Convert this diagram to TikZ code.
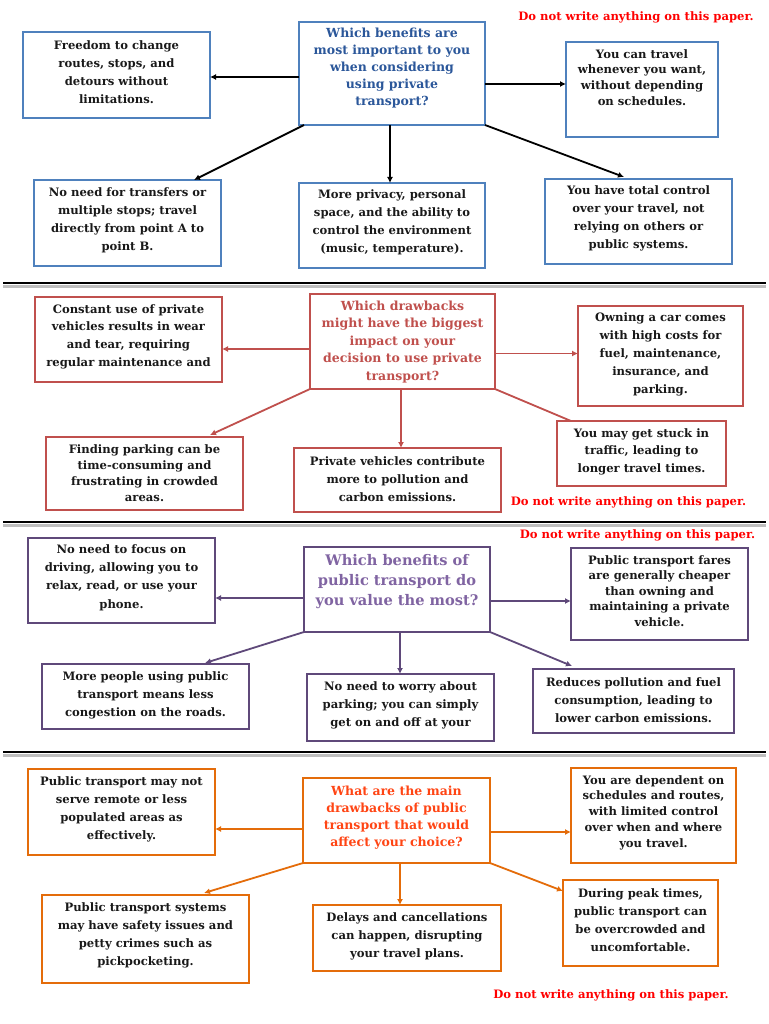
\documentclass[tikz,border=0pt]{standalone}
\usepackage{fontspec}
\setmainfont{DejaVu Serif}
\usetikzlibrary{arrows.meta,calc}
\definecolor{cblue}{HTML}{4F81BD}
\definecolor{tblue}{HTML}{2B579A}
\definecolor{cred}{HTML}{C0504D}
\definecolor{cpur}{HTML}{5F497A}
\definecolor{tpur}{HTML}{8064A2}
\definecolor{corg}{HTML}{E46C0A}
\definecolor{torg}{HTML}{FF4514}
\definecolor{cnote}{HTML}{FF0000}
\newcommand\mkbox[6]{%
  \node[draw=#6,line width=2.3pt,inner sep=0pt,outer sep=0pt,
    minimum width={#4-#2},minimum height={#5-#3}] (#1) at ({(#2+#4)/2},{(#3+#5)/2}) {};}
\tikzset{
  txt/.style={align=center,inner sep=0pt,text=black!90,font=\bfseries\fontsize{11.6}{#1}\selectfont},
  ttl/.style={align=center,inner sep=0pt,font=\bfseries\fontsize{12.5}{#1}\selectfont},
  note/.style={inner sep=0pt,text=cnote,font=\bfseries\fontsize{11.6}{13}\selectfont},
  arr/.style={line width=1.8pt,-{Latex[length=6pt,width=6pt]}},
  rule/.style={line width=2.6pt,black},
  ruleshadow/.style={line width=3pt,black!25}
}
\begin{document}
\begin{tikzpicture}[x=1pt,y=-1pt]
\useasboundingbox (0,0) rectangle (768,1024);
\fill[white] (0,0) rectangle (768,1024);

% ---------- Section 1 ----------
\mkbox{q1}{299}{22}{485}{125}{cblue}
\mkbox{l1}{23}{32}{210}{118}{cblue}
\mkbox{r1}{566}{42}{718}{137}{cblue}
\mkbox{bl1}{34}{180}{221}{266}{cblue}
\mkbox{bm1}{299}{183}{485}{268}{cblue}
\mkbox{br1}{545}{179}{732}{264}{cblue}
\node[ttl=17,text=tblue] (q1t) at (392,68) {Which benefits are\\most important to you\\when considering\\using private\\transport?};
\node[txt=18] (l1t) at (116.5,72) {Freedom to change\\routes, stops, and\\detours without\\limitations.};
\node[txt=15.7] (r1t) at (642,77.5) {You can travel\\whenever you want,\\without depending\\on schedules.};
\node[txt=18] (bl1t) at (127.5,220) {No need for transfers or\\multiple stops; travel\\directly from point A to\\point B.};
\node[txt=18] (bm1t) at (392,222) {More privacy, personal\\space, and the ability to\\control the environment\\(music, temperature).};
\node[txt=18] (br1t) at (638.5,218.5) {You have total control\\over your travel, not\\relying on others or\\public systems.};
\node[note] (n1) at (636,17) {Do not write anything on this paper.};
\coordinate (s1l) at ([yshift=-3.5pt]q1.west);
\coordinate (s1r) at ([yshift=-10.5pt]q1.east);
\coordinate (s1b) at ([xshift=-2pt]q1.south);
\draw[arr,black] (s1l) -- (s1l -| l1.east);
\draw[arr,black] (s1r) -- (s1r -| r1.west);
\draw[arr,black] ([xshift=5pt]q1.south west) -- ([xshift=66.5pt]bl1.north);
\draw[arr,black] (s1b) -- (s1b |- bm1.north);
\draw[arr,black] (q1.south east) -- ([xshift=-14.5pt,yshift=2pt]br1.north);

\draw[ruleshadow] (3,286) -- (766,286);
\draw[rule] (3,283) -- (766,283);

% ---------- Section 2 ----------
\mkbox{q2}{310}{294}{495}{389}{cred}
\mkbox{l2}{35}{297}{222}{382}{cred}
\mkbox{r2}{578}{306}{743}{406}{cred}
\mkbox{bl2}{46}{437}{243}{510}{cred}
\mkbox{bm2}{294}{448}{501}{512}{cred}
\mkbox{br2}{557}{421}{726}{486}{cred}
\node[ttl=17.5,text=cred] (q2t) at (402.5,342) {Which drawbacks\\might have the biggest\\impact on your\\decision to use private\\transport?};
\node[txt=17.7] (l2t) at (128.5,336.5) {Constant use of private\\vehicles results in wear\\and tear, requiring\\regular maintenance and};
\node[txt=18] (r2t) at (660.5,354) {Owning a car comes\\with high costs for\\fuel, maintenance,\\insurance, and\\parking.};
\node[txt=16] (bl2t) at (144.5,473) {Finding parking can be\\time-consuming and\\frustrating in crowded\\areas.};
\node[txt=18] (bm2t) at (397.5,479) {Private vehicles contribute\\more to pollution and\\carbon emissions.};
\node[txt=17.5] (br2t) at (641.5,451.5) {You may get stuck in\\traffic, leading to\\longer travel times.};
\node[note] (n2) at (628.5,502) {Do not write anything on this paper.};
\coordinate (s2l) at ([yshift=-7.5pt]q2.west);
\coordinate (s2r) at ([yshift=-12pt]q2.east);
\coordinate (s2b) at ([xshift=-1.5pt]q2.south);
\draw[arr,cred] (s2l) -- (s2l -| l2.east);
\draw[arr,cred] (s2r) -- (s2r -| r2.west);
\draw[arr,cred] (q2.south west) -- ([xshift=65.5pt,yshift=2pt]bl2.north);
\draw[arr,cred] (s2b) -- (s2b |- bm2.north);
\draw[line width=1.8pt,cred] (q2.south east) -- ([xshift=-70.5pt]br2.north);

\draw[ruleshadow] (3,525) -- (766,525);
\draw[rule] (3,522) -- (766,522);

% ---------- Section 3 ----------
\mkbox{q3}{304}{547}{490}{632}{cpur}
\mkbox{l3}{28}{538}{215}{623}{cpur}
\mkbox{r3}{571}{548}{748}{640}{cpur}
\mkbox{bl3}{42}{664}{249}{729}{cpur}
\mkbox{bm3}{307}{674}{494}{741}{cpur}
\mkbox{br3}{533}{669}{734}{733}{cpur}
\node[align=center,inner sep=0pt,text=tpur,font=\bfseries\fontsize{14.6}{20}\selectfont] (q3t) at (397,582) {Which benefits of\\public transport do\\you value the most?};
\node[txt=18.3] (l3t) at (121.5,577.5) {No need to focus on\\driving, allowing you to\\relax, read, or use your\\phone.};
\node[txt=15.5] (r3t) at (659.5,591) {Public transport fares\\are generally cheaper\\than owning and\\maintaining a private\\vehicle.};
\node[txt=18] (bl3t) at (145.5,695) {More people using public\\transport means less\\congestion on the roads.};
\node[txt=18] (bm3t) at (400.5,705) {No need to worry about\\parking; you can simply\\get on and off at your};
\node[txt=18] (br3t) at (633.5,700) {Reduces pollution and fuel\\consumption, leading to\\lower carbon emissions.};
\node[note] (n3) at (637.5,535) {Do not write anything on this paper.};
\coordinate (s3l) at ([yshift=-8.5pt]q3.west);
\coordinate (s3r) at ([yshift=-11.5pt]q3.east);
\coordinate (s3b) at ([xshift=3pt]q3.south);
\draw[arr,cpur] (s3l) -- (s3l -| l3.east);
\draw[arr,cpur] (s3r) -- (s3r -| r3.west);
\draw[arr,cpur] (q3.south west) -- ([xshift=59.5pt,yshift=1pt]bl3.north);
\draw[arr,cpur] (s3b) -- (s3b |- bm3.north);
\draw[arr,cpur] (q3.south east) -- ([xshift=-61.5pt,yshift=3pt]br3.north);

\draw[ruleshadow] (3,755) -- (766,755);
\draw[rule] (3,752) -- (766,752);

% ---------- Section 4 ----------
\mkbox{q4}{303}{778}{490}{863}{corg}
\mkbox{l4}{28}{769}{215}{855}{corg}
\mkbox{r4}{571}{768}{736}{863}{corg}
\mkbox{bl4}{42}{895}{249}{983}{corg}
\mkbox{bm4}{313}{905}{501}{971}{corg}
\mkbox{br4}{563}{880}{718}{966}{corg}
\node[ttl=17,text=torg] (q4t) at (396.5,817.5) {What are the main\\drawbacks of public\\transport that would\\affect your choice?};
\node[txt=18] (l4t) at (121.5,809) {Public transport may not\\serve remote or less\\populated areas as\\effectively.};
\node[txt=15.75] (r4t) at (653.5,812.5) {You are dependent on\\schedules and routes,\\with limited control\\over when and where\\you travel.};
\node[txt=18] (bl4t) at (145.5,935) {Public transport systems\\may have safety issues and\\petty crimes such as\\pickpocketing.};
\node[txt=18] (bm4t) at (407,936) {Delays and cancellations\\can happen, disrupting\\your travel plans.};
\node[txt=18] (br4t) at (640.5,920) {During peak times,\\public transport can\\be overcrowded and\\uncomfortable.};
\node[note] (n4) at (611,995) {Do not write anything on this paper.};
\coordinate (s4l) at ([yshift=-8.5pt]q4.west);
\coordinate (s4r) at ([yshift=-11.5pt]q4.east);
\coordinate (s4b) at ([xshift=3.5pt]q4.south);
\draw[arr,corg] (s4l) -- (s4l -| l4.east);
\draw[arr,corg] (s4r) -- (s4r -| r4.west);
\draw[arr,corg] (q4.south west) -- ([xshift=58.5pt,yshift=2pt]bl4.north);
\draw[arr,corg] (s4b) -- (s4b |- bm4.north);
\draw[arr,corg] (q4.south east) -- ([yshift=-11pt]br4.north west);
\end{tikzpicture}
\end{document}
